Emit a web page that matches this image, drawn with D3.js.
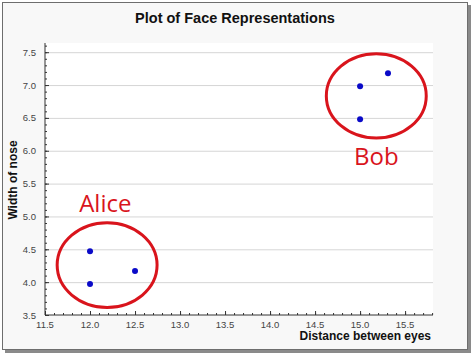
<!DOCTYPE html>
<html><head><meta charset="utf-8">
<script src="https://cdn.jsdelivr.net/npm/d3@7"></script>
<style>body{margin:0;background:#fff}svg{display:block}</style>
</head><body>
<script>
const title = "Plot of Face Representations";
const xLabel = "Distance between eyes";
const yLabel = "Width of nose";
const xTicks = [11.5,12.0,12.5,13.0,13.5,14.0,14.5,15.0,15.5];
const yTicks = [3.5,4.0,4.5,5.0,5.5,6.0,6.5,7.0,7.5];
const names = ["Alice","Alice","Alice","Bob","Bob","Bob"];
const xVals = [12.0,12.0,12.5,15.0,15.0,15.31];
const yVals = [4.47,3.97,4.17,6.98,6.48,7.18];
const groups = ["Alice","Bob"];
const groupCx = [12.19,15.18];
const groupCy = [4.26,6.835];
const groupRx = [0.555,0.555];
const groupRy = [0.645,0.64];
const labelX = [12.17,15.18];
const labelY = [5.07,5.78];

const W=474,H=357;
const svg=d3.select("body").append("svg").attr("width",W).attr("height",H);
// frame with shadow
svg.append("rect").attr("x",5).attr("y",5).attr("width",466).attr("height",348).attr("fill","#8a8a8a");
svg.append("rect").attr("x",2.5).attr("y",2.5).attr("width",465).attr("height",347).attr("fill","#f8f8f8").attr("stroke","#6e6e6e").attr("stroke-width",1);

const x=d3.scaleLinear().domain([11.5,15.81]).range([45,433]);
const y=d3.scaleLinear().domain([3.5,7.64]).range([315,43]);

svg.append("rect").attr("x",x(11.5)).attr("y",y(7.64)).attr("width",x(15.81)-x(11.5)).attr("height",y(3.5)-y(7.64)).attr("fill","#fff");

// grid
svg.append("g").selectAll("line").data(yTicks.filter(d=>d>3.5)).join("line")
 .attr("x1",x(11.5)).attr("x2",x(15.81)).attr("y1",d=>y(d)+0.5).attr("y2",d=>y(d)+0.5)
 .attr("stroke","#d6d6d6").attr("stroke-width",1);

const font="'Liberation Sans', Arial, sans-serif";
// x axis
const xMinor=d3.range(115,159).map(d=>d/10);
const gx=svg.append("g").attr("transform",`translate(0,${y(3.5)})`);
gx.append("g").call(d3.axisTop(x).tickValues(xMinor).tickSize(2).tickFormat(""))
 .call(g=>g.select(".domain").remove());
gx.append("g").call(d3.axisTop(x).tickValues(xTicks).tickSize(4).tickFormat(""))
 .call(g=>g.select(".domain").attr("d",`M${x(11.5)},0H${x(15.81)}`));
gx.selectAll("line,path").attr("stroke","#333");
gx.append("g").selectAll("text").data(xTicks).join("text")
 .attr("x",d=>x(d)).attr("y",13).attr("text-anchor","middle")
 .attr("font-family",font).attr("font-size",9.5).attr("fill","#444").text(d=>d.toFixed(1));

// y axis
const yMinor=d3.range(35,77).map(d=>d/10);
const gy=svg.append("g").attr("transform",`translate(${x(11.5)},0)`);
gy.append("g").call(d3.axisRight(y).tickValues(yMinor).tickSize(2).tickFormat(""))
 .call(g=>g.select(".domain").remove());
gy.append("g").call(d3.axisRight(y).tickValues(yTicks).tickSize(4).tickFormat(""))
 .call(g=>g.select(".domain").attr("d",`M0,${y(3.5)}V${y(7.64)}`));
gy.selectAll("line,path").attr("stroke","#333");
gy.append("g").selectAll("text").data(yTicks).join("text")
 .attr("x",-9).attr("y",d=>y(d)+3.5).attr("text-anchor","end")
 .attr("font-family",font).attr("font-size",9.5).attr("fill","#444").text(d=>d.toFixed(1));

// titles
svg.append("text").attr("x",235).attr("y",23).attr("text-anchor","middle")
 .attr("font-family",font).attr("font-weight","bold").attr("font-size",14.5).attr("fill","#111").text(title);
svg.append("text").attr("x",431).attr("y",340).attr("text-anchor","end")
 .attr("font-family",font).attr("font-weight","bold").attr("font-size",12).attr("fill","#111").text(xLabel);
svg.append("text").attr("transform","translate(17,180) rotate(-90)").attr("text-anchor","middle")
 .attr("font-family",font).attr("font-weight","bold").attr("font-size",12).attr("fill","#111").text(yLabel);

// points
svg.append("g").selectAll("circle").data(xVals).join("circle")
 .attr("cx",(d,i)=>x(d)).attr("cy",(d,i)=>y(yVals[i])).attr("r",3).attr("fill","#0a0ac8");

// annotations
svg.append("g").selectAll("ellipse").data(groups).join("ellipse")
 .attr("cx",(d,i)=>x(groupCx[i])).attr("cy",(d,i)=>y(groupCy[i]))
 .attr("rx",(d,i)=>x(groupCx[i]+groupRx[i])-x(groupCx[i]))
 .attr("ry",(d,i)=>y(groupCy[i])-y(groupCy[i]+groupRy[i]))
 .attr("fill","none").attr("stroke","#d9141c").attr("stroke-width",3);
svg.append("g").selectAll("text").data(groups).join("text")
 .attr("x",(d,i)=>x(labelX[i])).attr("y",(d,i)=>y(labelY[i])).attr("text-anchor","middle")
 .attr("font-family","'Open Sans', 'Liberation Sans', sans-serif").attr("font-size",24).attr("fill","#d9141c").text(d=>d);
</script>
</body></html>
